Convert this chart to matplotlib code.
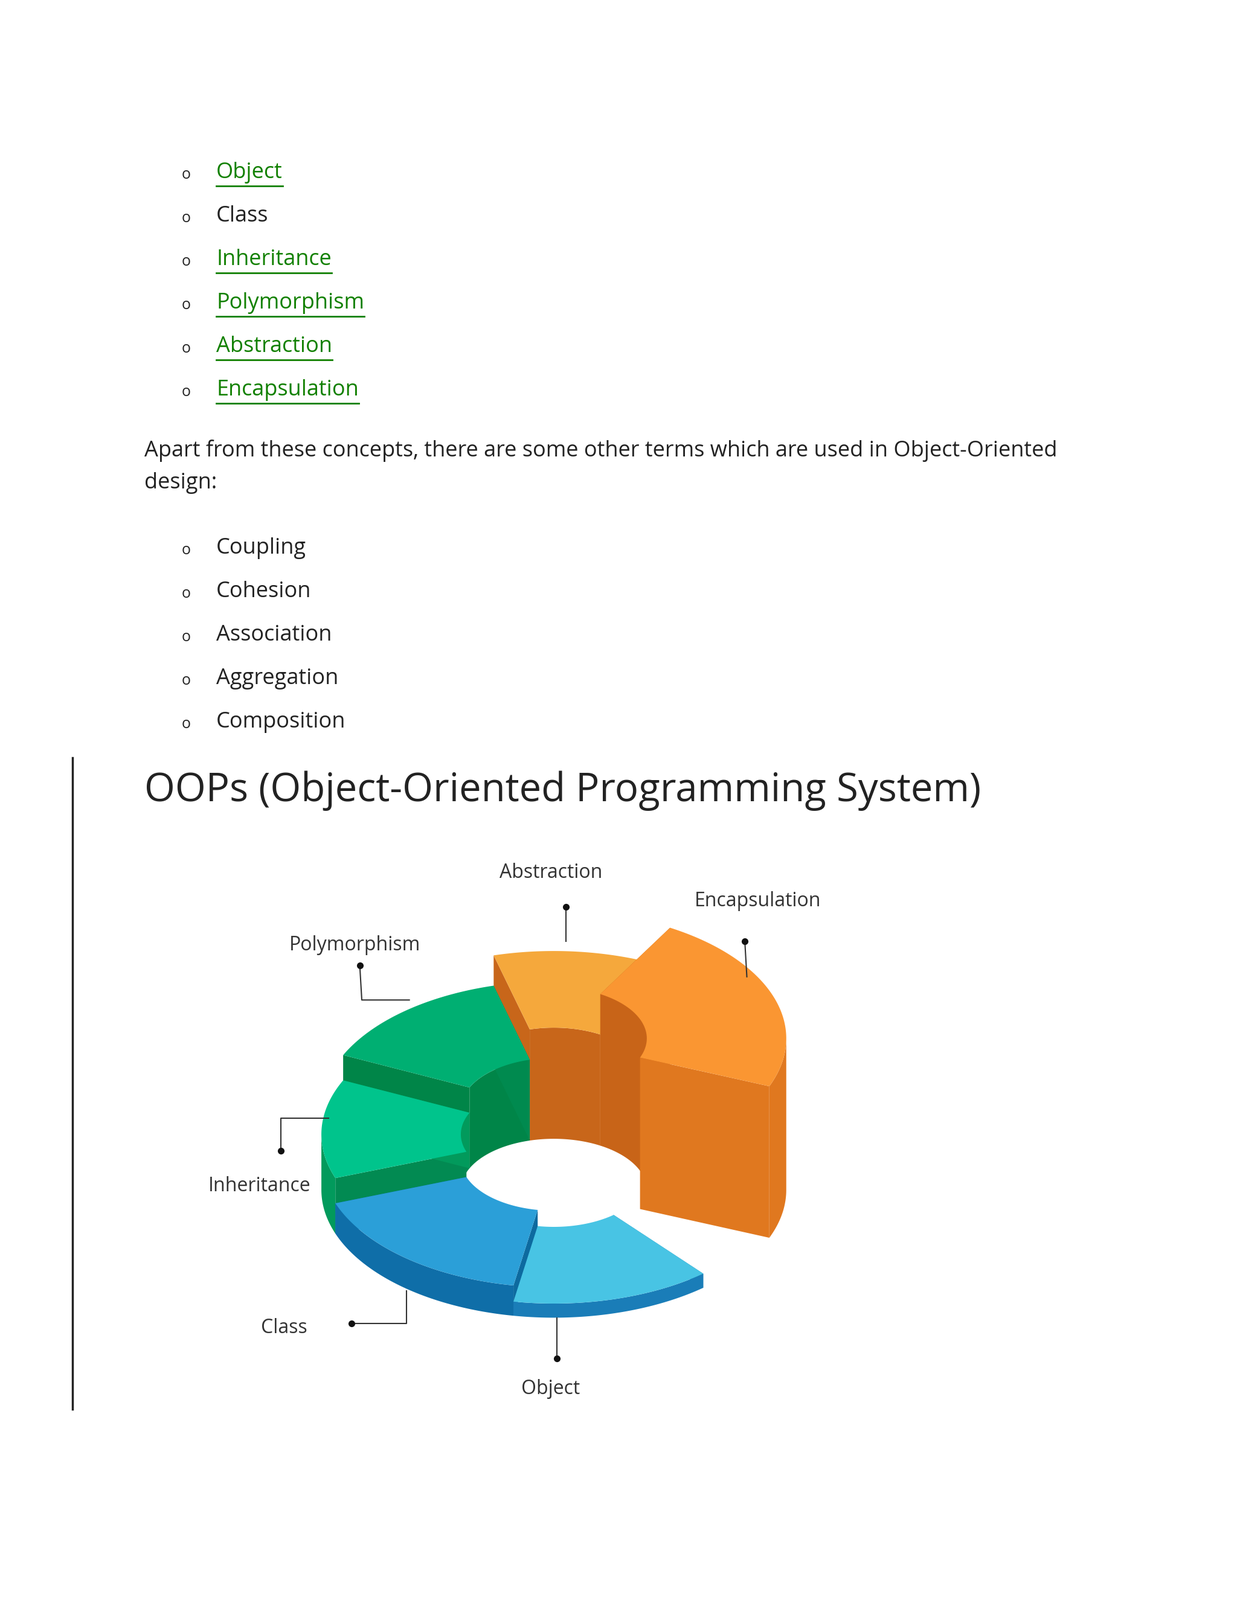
import numpy as np
import matplotlib
matplotlib.use("Agg")
import matplotlib.pyplot as plt
from matplotlib.patches import Polygon

concepts = ["Object", "Class", "Inheritance", "Polymorphism", "Abstraction", "Encapsulation"]
linked = [True, False, True, True, True, True]
other_terms = ["Coupling", "Cohesion", "Association", "Aggregation", "Composition"]
seg_start = [50, 100, 160, 205, 255, 300]
seg_end = [100, 160, 205, 255, 300, 382]
seg_height = [14, 30, 55, 80, 110, 150]
top_col = ["#48C4E4", "#2B9FD8", "#00C48C", "#00AF72", "#F5A83C", "#FA9632"]
side_col = ["#1A7DB8", "#0F6EA8", "#029A5C", "#008A4F", "#E8892A", "#E0781F"]
inner_col = ["#1580B0", "#0D6A9F", "#028A52", "#008548", "#C8661A", "#C86418"]

fig = plt.figure(figsize=(20.48, 26.5), dpi=100)
ax = fig.add_axes([0, 0, 1, 1])
ax.set_xlim(0, 1224); ax.set_ylim(1584, 0); ax.axis("off")

FONT = "Open Sans"
green = "#118000"
fs = 26
ys = [166, 209, 252, 295, 338, 381]
links = []
for y, t, l in zip(ys, concepts, linked):
    y = y + 5
    ax.text(184, y + 2, "o", fontsize=18, family=FONT, va="center", ha="center", color="#222")
    tx = ax.text(214, y, t, fontsize=fs, family=FONT, va="center", color=green if l else "#222")
    if l:
        links.append((tx, y))
ax.text(143, 446, "Apart from these concepts, there are some other terms which are used in Object-Oriented",
        fontsize=fs, family=FONT, va="center", color="#222")
ax.text(143, 478, "design:", fontsize=fs, family=FONT, va="center", color="#222")
for y, t in zip([537, 580, 623, 666, 709], other_terms):
    y = y + 6
    ax.text(184, y + 2, "o", fontsize=18, family=FONT, va="center", ha="center", color="#222")
    ax.text(214, y, t, fontsize=fs, family=FONT, va="center", color="#222")
ax.plot([72, 72], [750, 1395], color="#222", lw=2.5)
ax.text(143, 783, "OOPs (Object-Oriented Programming System)", fontsize=47, family=FONT,
        va="center", color="#222")

fig.canvas.draw()
inv = ax.transData.inverted()
for tx, y in links:
    bb = tx.get_window_extent()
    x0 = inv.transform((bb.x0, bb.y0))[0]
    x1 = inv.transform((bb.x1, bb.y0))[0]
    ax.plot([x0, x1], [y + 13, y + 13], color=green, lw=2)

cx, cy, R, r, k = 548, 1178, 230, 92, 0.55
def P(rad, a, h):
    a = np.radians(a)
    return np.column_stack([cx + rad * np.cos(a), cy + rad * k * np.sin(a) - h])

order = sorted(range(6), key=lambda i: np.sin(np.radians((seg_start[i] + seg_end[i]) / 2)))
for i in order:
    a = np.linspace(seg_start[i], seg_end[i], 100)
    h = seg_height[i]
    s = np.sin(np.radians(a))
    m = s < 0
    if m.any():
        aa = a[m]
        ax.add_patch(Polygon(np.vstack([P(r, aa, h), P(r, aa[::-1], 0)]), fc=inner_col[i], ec="none"))
    for ae, col in ((seg_start[i], inner_col[i]), (seg_end[i], side_col[i])):
        ax.add_patch(Polygon(np.vstack([P(r, [ae], h), P(R, [ae], h), P(R, [ae], 0), P(r, [ae], 0)]),
                             fc=col, ec="none"))
    m = s > 0
    if m.any():
        aa = a[m]
        ax.add_patch(Polygon(np.vstack([P(R, aa, h), P(R, aa[::-1], 0)]), fc=side_col[i], ec="none"))
    ax.add_patch(Polygon(np.vstack([P(R, a, h), P(r, a[::-1], h)]), fc=top_col[i], ec="none"))

LF = 23
lc = "#333"
def lead(pts, dot):
    pts = np.array(pts)
    ax.plot(pts[:, 0], pts[:, 1], color=lc, lw=1.5)
    ax.plot(*dot, "o", color="#111", ms=7)
ax.text(545, 864, "Abstraction", fontsize=LF, family=FONT, ha="center", va="center", color="#333")
lead([(560, 898), (560, 932)], (560, 898))
ax.text(750, 892, "Encapsulation", fontsize=LF, family=FONT, ha="center", va="center", color="#333")
lead([(737, 932), (739, 967)], (737, 932))
ax.text(351, 936, "Polymorphism", fontsize=LF, family=FONT, ha="center", va="center", color="#333")
lead([(356, 956), (358, 990), (405, 990)], (356, 956))
ax.text(257, 1174, "Inheritance", fontsize=LF, family=FONT, ha="center", va="center", color="#333")
lead([(278, 1139), (278, 1107), (325, 1107)], (278, 1139))
ax.text(281, 1315, "Class", fontsize=LF, family=FONT, ha="center", va="center", color="#333")
lead([(348, 1310), (402, 1310), (402, 1278)], (348, 1310))
ax.text(545, 1375, "Object", fontsize=LF, family=FONT, ha="center", va="center", color="#333")
lead([(551, 1345), (551, 1305)], (551, 1345))

fig.savefig("out.png", dpi=100, facecolor="white")
